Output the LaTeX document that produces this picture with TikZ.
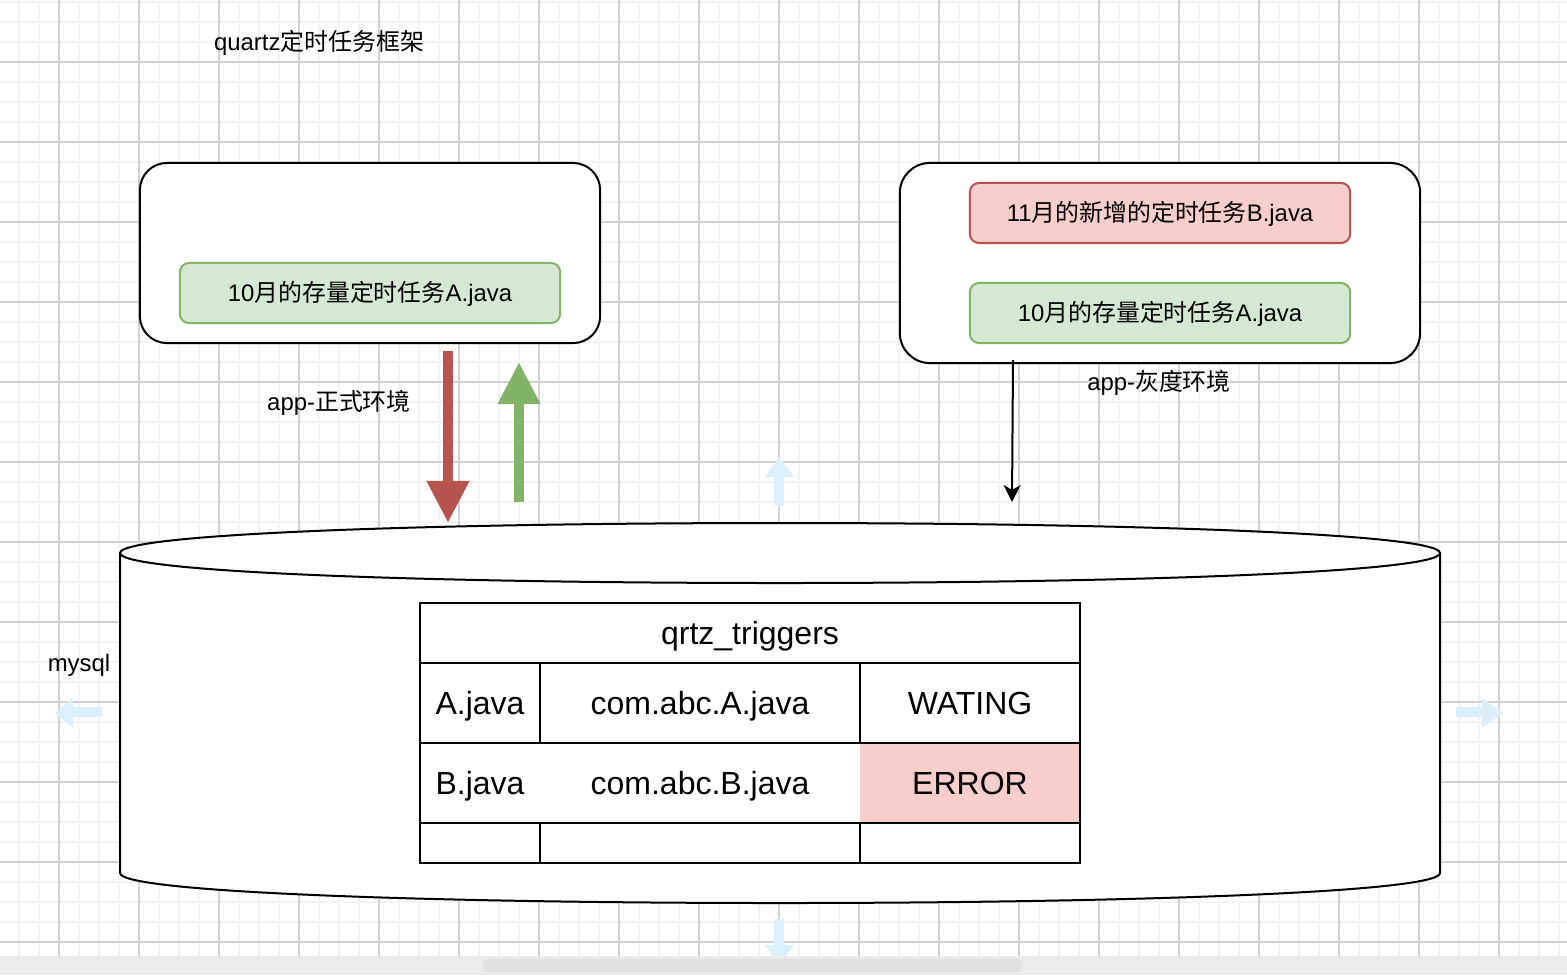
\documentclass[tikz,border=0pt]{standalone}
\usepackage{fontspec}
\setmainfont{Liberation Sans}
\newfontfamily\cjk{Noto Sans CJK SC}
\newcommand{\zh}[1]{{\cjk #1}}
\usetikzlibrary{arrows.meta}
\definecolor{gridminor}{RGB}{243,243,243}
\definecolor{gridmajor}{RGB}{210,210,210}
\definecolor{greenline}{RGB}{130,179,102}
\definecolor{greenfill}{RGB}{213,232,212}
\definecolor{redline}{RGB}{184,84,80}
\definecolor{redfill}{RGB}{248,206,204}
\definecolor{hoverblue}{RGB}{220,240,251}
\definecolor{scrolltrack}{RGB}{235,235,235}
\definecolor{scrollthumb}{RGB}{224,224,224}

\begin{document}
\begin{tikzpicture}[x=0.01cm, y=-0.01cm,
  every node/.style={font=\fontsize{6.8}{8}\selectfont, inner sep=0pt, text height=0.17cm, text depth=0cm},
  appbox/.style={draw=black, line width=0.02cm, fill=white},
  taskbox/.style={line width=0.02cm, rounded corners=0.09cm, minimum width=3.8cm, minimum height=0.6cm},
  cell/.style={line width=0.02cm, font=\fontsize{9.1}{11}\selectfont, text height=0.23cm, text depth=0cm},
  fatarrow/.style={line width=0.1cm, -{Triangle[length=0.42cm, width=0.40cm]}},
  hover/.style={fill=hoverblue, draw=none}]
\useasboundingbox (0,0) rectangle (1567,975);
% grid
\fill[white] (0,0) rectangle (1567,975);
\foreach \gx in {19,39,...,1567} \draw[gridminor, line width=0.02cm] (\gx,0) -- (\gx,975);
\foreach \gy in {2,22,...,975} \draw[gridminor, line width=0.02cm] (0,\gy) -- (1567,\gy);
\foreach \gx in {59,139,...,1567} \draw[gridmajor, line width=0.012cm] (\gx,0) -- (\gx,975);
\foreach \gy in {62,142,...,975} \draw[gridmajor, line width=0.012cm] (0,\gy) -- (1567,\gy);

\node (title) at (319,42) {quartz\zh{定时任务框架}};

% app boxes
\node[appbox, rounded corners=0.27cm, minimum width=4.6cm, minimum height=1.8cm] (prod) at (370,253) {};
\node[taskbox, draw=greenline, fill=greenfill] (prodA) at (370,293) {10\zh{月的存量定时任务}A.java};
\node (prodlbl) at (339,402) {app-\zh{正式环境}};

\node[appbox, rounded corners=0.3cm, minimum width=5.2cm, minimum height=2cm] (gray) at (1160,263) {};
\node[taskbox, draw=redline, fill=redfill] (grayB) at (1160,213) {11\zh{月的新增的定时任务}B.java};
\node[taskbox, draw=greenline, fill=greenfill] (grayA) at (1160,313) {10\zh{月的存量定时任务}A.java};
\node (graylbl) at (1159,382) {app-\zh{灰度环境}};

% mysql
\draw[line width=0.02cm, fill=white] (120,553) .. controls (120,513) and (1440,513) .. (1440,553)
  -- (1440,873) .. controls (1440,913) and (120,913) .. (120,873) -- cycle;
\draw[line width=0.02cm] (120,553) .. controls (120,593) and (1440,593) .. (1440,553);
\node (mysql) at (79,663) {mysql};

% qrtz_triggers table
\node[cell, draw, minimum width=6.6cm, minimum height=0.6cm] (hdr) at (750,633) {qrtz\_triggers};
\node[cell, draw, minimum width=1.2cm, minimum height=0.8cm] (a1) at (480,703) {A.java};
\node[cell, draw, minimum width=3.2cm, minimum height=0.8cm] (b1) at (700,703) {com.abc.A.java};
\node[cell, draw, minimum width=2.2cm, minimum height=0.8cm] (c1) at (970,703) {WATING};
\node[cell, fill=redfill, minimum width=2.2cm, minimum height=0.8cm] (c2) at (970,783) {ERROR};
\node[cell, draw, minimum width=6.6cm, minimum height=0.8cm] (row2) at (750,783) {};
\node[cell] (a2) at (480,783) {B.java};
\node[cell] (b2) at (700,783) {com.abc.B.java};
\node[cell, draw, minimum width=1.2cm, minimum height=0.4cm] (a3) at (480,843) {};
\node[cell, draw, minimum width=3.2cm, minimum height=0.4cm] (b3) at (700,843) {};
\node[cell, draw, minimum width=2.2cm, minimum height=0.4cm] (c3) at (970,843) {};

% arrows
\coordinate (redS) at (448,351);
\coordinate (redE) at (448,523);
\coordinate (greenS) at (519,502);
\coordinate (greenE) at (519,362);
\coordinate (grayS) at (1013,360);
\coordinate (grayE) at (1012,502);
\draw[fatarrow, redline] (redS) -- (redE);
\draw[fatarrow, greenline] (greenS) -- (greenE);
\draw[line width=0.02cm, -{Stealth[length=0.17cm, width=0.17cm, inset=0.05cm]}] (grayS) -- (grayE);

% hover arrows
\fill[hover] (774,505) -- (774,477) -- (765,477) -- (779,457) -- (794,477) -- (784,477) -- (784,505) -- cycle;
\fill[hover] (102,707) -- (73,707) -- (73,698) -- (55,713) -- (73,728) -- (73,717) -- (102,717) -- cycle;
\fill[hover] (1456,707) -- (1482,707) -- (1482,698) -- (1503,713) -- (1482,728) -- (1482,717) -- (1456,717) -- cycle;
\fill[hover] (774,919) -- (774,945) -- (765,945) -- (779,965) -- (794,945) -- (784,945) -- (784,919) -- cycle;

% scrollbar
\fill[scrolltrack] (0,956) rectangle (1567,975);
\fill[scrollthumb, rounded corners=0.06cm] (483,959) rectangle (1022,972);
\end{tikzpicture}
\end{document}
